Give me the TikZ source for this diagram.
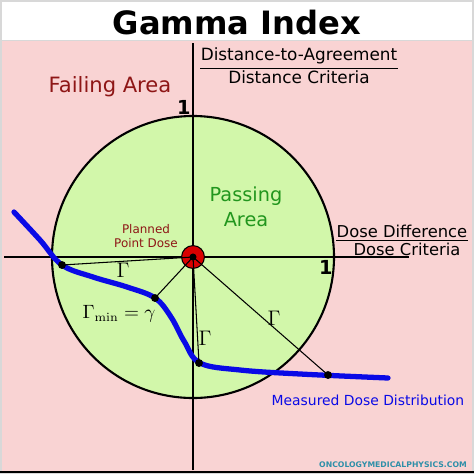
\documentclass[tikz,border=0pt]{standalone}
\usepackage[no-math]{fontspec}
\setmainfont{DejaVu Sans}
\usepackage{tikz}
\usetikzlibrary{arrows.meta,positioning,calc}
\definecolor{FailPink}{HTML}{F9D3D3}
\definecolor{PassGreen}{HTML}{D2F7AA}
\definecolor{DarkRed}{HTML}{8E1616}
\definecolor{PassText}{HTML}{22961E}
\definecolor{CurveBlue}{HTML}{0A0AE6}
\definecolor{SiteTeal}{HTML}{2E8FA8}
\definecolor{FrameGray}{HTML}{D8D8D8}

\begin{document}
\begin{tikzpicture}[x=0.02cm,y=-0.02cm,
  lbl/.style={inner sep=0pt,font=\fontsize{9.6}{11}\selectfont},
  glbl/.style={inner sep=0pt,font=\fontsize{11.5}{12}\selectfont},
  axis/.style={line width=1.4pt,black},
  gline/.style={line width=0.6pt,black},
  dot/.style={circle,fill=black,inner sep=0pt,minimum size=4.5pt}
]
\useasboundingbox (0,0) rectangle (474,474);
% background
\fill[FrameGray] (0,0) rectangle (474,474);
\fill[white] (2,2) rectangle (472,40);
\fill[FailPink] (2,41) rectangle (472,471);
\draw[black,line width=0.8pt] (0,472) -- (474,472);
\node[inner sep=0pt,font=\fontsize{18.3}{22}\selectfont\bfseries] (title) at (237,23) {Gamma Index};
% passing circle
\filldraw[fill=PassGreen,draw=black,line width=1.2pt] (193,257) circle (141);
% axes
\coordinate (yb) at (193,470);
\coordinate (yt) at (193,43);
\coordinate (xl) at (4,257);
\coordinate (xr) at (409,257);
\draw[axis] (yb) -- (yt);
\draw[axis] (xl) -- (xr);
\node[lbl,font=\fontsize{11}{12}\selectfont\bfseries,anchor=south east] (one y) at (191,115) {1};
\node[lbl,font=\fontsize{11}{12}\selectfont\bfseries,anchor=north east] (one x) at (333,260) {1};
% axis labels
\node[lbl] (dta) at (299,56) {Distance-to-Agreement};
\node[lbl] (dc) at (299,77) {Distance Criteria};
\draw[gline,line width=0.8pt] ($(dta.south west)+(0,4)$) -- ($(dta.south east)+(0,4)$);
\node[lbl,font=\fontsize{9.3}{11}\selectfont] (dd) at (402,231) {Dose Difference};
\node[lbl,font=\fontsize{9.3}{11}\selectfont] (dcr) at (407,249) {Dose Criteria};
\draw[gline,line width=0.8pt] ($(dd.south west)+(0,3)$) -- ($(dd.south east)+(0,3)$);
% area labels
\node[lbl,text=DarkRed,font=\fontsize{12}{13}\selectfont] (fail) at (110,87) {Failing Area};
\node[lbl,text=PassText,font=\fontsize{11}{14}\selectfont,align=center] (pass) at (246,207) {Passing\\Area};
\node[lbl,text=DarkRed,font=\fontsize{6.8}{8}\selectfont,align=center] (plan) at (146,236) {Planned\\Point Dose};
% measured dose curve
\draw[CurveBlue,line width=3pt,line cap=round] plot[smooth,tension=0.6] coordinates
  {(14,212) (40,240) (62,265) (93,277) (127,287) (155,298) (171,317) (184,341) (200,363) (240,370) (300,374) (388,378)};
\node[lbl,text=CurveBlue,font=\fontsize{7.9}{10}\selectfont] (meas) at (368,400) {Measured Dose Distribution};
% planned point and gamma lines
\node[dot] (p1) at (62,265) {};
\node[dot] (p2) at (155,298) {};
\node[dot] (p3) at (199,363) {};
\node[dot] (p4) at (328,375) {};
\node[circle,fill=red!85!black,draw=black,line width=0.6pt,minimum size=13pt,inner sep=0pt] (plan pt) at (193,257) {};
\node[dot,minimum size=4pt] (plan c) at (193,257) {};
\foreach \p in {p1,p2,p3,p4}
  \draw[gline] (plan c.center) -- (\p.center);
\node[glbl] (g1) at (123,270) {$\Gamma$};
\node[glbl,font=\fontsize{10.5}{11}\selectfont] (gmin) at (119,314) {$\Gamma_{\min}=\gamma$};
\node[glbl] (g3) at (205,338) {$\Gamma$};
\node[glbl] (g4) at (274,318) {$\Gamma$};
\node[lbl,text=SiteTeal,font=\fontsize{4.4}{5}\selectfont\bfseries] (site) at (393,465) {ONCOLOGYMEDICALPHYSICS.COM};
\end{tikzpicture}
\end{document}
